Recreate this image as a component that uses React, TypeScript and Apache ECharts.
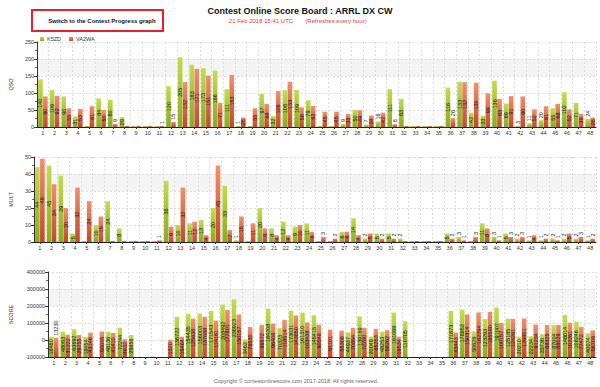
import React, { useEffect, useRef } from 'react';
import * as echarts from 'echarts';

const hours = ['1','2','3','4','5','6','7','8','9','10','11','12','13','14','15','16','17','18','19','20','21','22','23','24','25','26','27','28','29','30','31','32','33','34','35','36','37','38','39','40','41','42','43','44','45','46','47','48'];
const seriesNames = ['K5ZD', 'VA2WA'];

const qsoK5ZD = [140,109,90,31,0,84,80,29,0,0,0,120,205,183,173,166,111,1,0,97,32,108,109,79,0,0,9,50,7,16,111,83,0,0,0,116,133,42,33,136,69,3,11,20,55,102,71,24];
const qsoVA2WA = [90,92,55,53,61,50,9,0,0,0,1,15,132,171,151,71,153,28,55,68,106,133,58,62,45,45,38,49,34,42,8,0,0,0,0,26,132,130,99,83,91,90,52,61,68,52,39,28];

const multK5ZD = [44,45,39,5,0,10,24,8,0,0,0,36,10,11,13,20,33,1,0,20,8,12,9,11,0,0,6,14,2,5,5,2,0,0,0,5,3,0,11,3,5,2,1,1,2,2,2,1];
const multVA2WA = [49,34,20,32,24,15,0,0,0,0,1,9,32,12,4,45,7,15,11,8,4,4,10,6,3,2,6,4,5,2,2,0,0,0,0,2,1,3,8,1,3,3,4,2,1,5,3,2];

const scoreK5ZD = [18460,48093,63692,18454,0,48136,72244,29656,0,0,0,136722,154435,156003,171543,208492,238923,3463,0,184208,70323,173031,161310,145415,0,0,44937,139169,20049,48253,161069,110705,0,0,0,171873,178853,50626,123293,191007,125185,20210,22234,33736,87004,148014,108246,40074];
const scoreVA2WA = [13230,31222,29755,43146,50045,41410,4932,0,0,0,1320,19464,125638,137088,114161,177801,150157,76530,89572,96408,118514,143850,103438,90548,61101,55308,70854,72260,65253,58262,19534,0,0,0,0,43443,150314,162294,165580,100157,124261,126851,91234,88325,88029,102261,77472,56709];

const SCORE_OFFSET = 100000;

const GRID_H = 85;
const FONT = 'Liberation Sans, Arial, sans-serif';

function makeData(values: number[], maxUnits: number, offset: number, extra: number, hideZeroBar: boolean) {
  return values.map((v) => {
    if (v === 0) {
      return hideZeroBar ? '-' : { value: 0, label: { show: false } };
    }
    const px = ((v + offset) / maxUnits) * GRID_H;
    const txt = String(v);
    const need = txt.length * 3.2 + extra;
    const fits = px >= need;
    return {
      value: v + offset,
      label: {
        show: true,
        position: fits ? 'inside' : 'top',
        rotate: 90,
        align: fits ? 'center' : 'left',
        verticalAlign: 'middle',
        distance: 2,
        color: '#161616',
        textBorderWidth: 0,
        formatter: txt,
      },
    };
  });
}

const greenGrad = () => new echarts.graphic.LinearGradient(0, 0, 0, 1, [
  { offset: 0, color: '#c3dc50' },
  { offset: 1, color: '#86ac1f' },
]);
const redGrad = () => new echarts.graphic.LinearGradient(0, 0, 0, 1, [
  { offset: 0, color: '#f0906c' },
  { offset: 1, color: '#c24a27' },
]);

function yAxisCfg(gridIndex: number, max: number, interval: number, name: string, nameGap: number, formatter?: (v: number) => string) {
  return {
    type: 'value',
    gridIndex,
    min: 0,
    max,
    interval,
    name,
    nameLocation: 'middle',
    nameGap,
    nameTextStyle: { fontSize: 5.5, color: '#333', fontFamily: FONT },
    axisLine: { show: true, lineStyle: { color: '#333', width: 1 } },
    axisTick: { show: true, length: 3, lineStyle: { color: '#333' } },
    minorTick: { show: true, splitNumber: 2, length: 2, lineStyle: { color: '#e03030' } },
    axisLabel: { fontSize: 5.5, color: '#333', margin: 3, fontFamily: FONT, formatter: formatter || undefined },
    splitLine: { show: true, lineStyle: { color: '#dcdcdc', type: [2, 2] } },
    splitArea: { show: true, areaStyle: { color: ['rgba(0,0,0,0)', 'rgba(0,0,0,0)', 'rgba(0,0,0,0)', '#f4f4f4', 'rgba(0,0,0,0)'] } },
  };
}

function xAxisCfg(gridIndex: number) {
  return {
    type: 'category',
    gridIndex,
    data: hours,
    boundaryGap: true,
    axisLine: { show: true, lineStyle: { color: '#222', width: 1 } },
    axisTick: { show: true, alignWithLabel: true, length: 2, lineStyle: { color: '#333' } },
    axisLabel: { fontSize: 5.5, color: '#333', margin: 3, interval: 0, fontFamily: FONT },
    splitLine: { show: true, interval: 0, lineStyle: { color: '#dcdcdc', type: [2, 2] } },
  };
}

function barSeries(name: string, idx: number, data: any[], color: any) {
  return {
    type: 'bar',
    name,
    xAxisIndex: idx,
    yAxisIndex: idx,
    data,
    barGap: '8%',
    barCategoryGap: '18%',
    barMinHeight: 1,
    itemStyle: { color },
    label: { show: true, fontSize: 5.5, color: '#161616', textBorderWidth: 0, fontFamily: FONT },
  };
}

export default function App() {
  const ref = useRef<HTMLDivElement>(null);
  useEffect(() => {
    if (!ref.current) return;
    const chart = echarts.init(ref.current, undefined, { renderer: 'svg' });
    const option = {
      animation: false,
      backgroundColor: '#fff',
      textStyle: { fontFamily: FONT },
      title: {
        text: 'Contest Online Score Board : ARRL DX CW',
        left: 'center',
        top: 1,
        textStyle: { fontSize: 9, fontWeight: 'bold', color: '#111', fontFamily: FONT },
      },
      legend: {
        data: seriesNames,
        left: 35,
        top: 31,
        itemWidth: 4,
        itemHeight: 4,
        itemGap: 8,
        icon: 'rect',
        textStyle: { fontSize: 5.5, color: '#333', fontFamily: FONT, padding: [0, 0, 0, -2] },
      },
      graphic: [
        { type: 'rect', shape: { x: 32, y: 10, width: 131, height: 21 }, style: { fill: 'none', stroke: '#e8202a', lineWidth: 2 } },
        { type: 'text', x: 102, y: 21, style: { text: 'Switch to the Contest Progress graph', fontSize: 6, fontWeight: 'bold', fill: '#111', align: 'center', verticalAlign: 'middle', fontFamily: FONT } },
        { type: 'text', x: 261, y: 21, style: { text: '21 Feb 2018 15:41 UTC', fontSize: 6, fill: '#ee3333', align: 'center', verticalAlign: 'middle', fontFamily: FONT } },
        { type: 'text', x: 336, y: 21, style: { text: '(Refreshes every hour)', fontSize: 6, fill: '#ee3333', align: 'center', verticalAlign: 'middle', fontFamily: FONT } },
        { type: 'text', x: 296, y: 381, style: { text: 'Copyright \u00a9 contestonlinescore.com 2017-2018. All rights reserved.', fontSize: 5.5, fill: '#666', align: 'center', verticalAlign: 'middle', fontFamily: FONT } },
      ],
      grid: [
        { left: 31, width: 565, top: 42, height: GRID_H },
        { left: 31, width: 565, top: 157, height: GRID_H },
        { left: 31, width: 565, top: 272, height: GRID_H },
      ],
      xAxis: [xAxisCfg(0), xAxisCfg(1), xAxisCfg(2)],
      yAxis: [
        yAxisCfg(0, 250, 50, 'QSO', 13),
        yAxisCfg(1, 50, 10, 'MULT', 9),
        yAxisCfg(2, 500000, 100000, 'SCORE', 25, (v: number) => String(v - SCORE_OFFSET)),
      ],
      series: [
        barSeries(seriesNames[0], 0, makeData(qsoK5ZD, 250, 0, 3, false), greenGrad()),
        barSeries(seriesNames[1], 0, makeData(qsoVA2WA, 250, 0, 3, false), redGrad()),
        barSeries(seriesNames[0], 1, makeData(multK5ZD, 50, 0, 3, false), greenGrad()),
        barSeries(seriesNames[1], 1, makeData(multVA2WA, 50, 0, 3, false), redGrad()),
        barSeries(seriesNames[0], 2, makeData(scoreK5ZD, 500000, SCORE_OFFSET, 4, true), greenGrad()),
        barSeries(seriesNames[1], 2, makeData(scoreVA2WA, 500000, SCORE_OFFSET, 4, true), redGrad()),
      ],
    };
    chart.setOption(option as any);
    return () => chart.dispose();
  }, []);
  return <div ref={ref} style={{ position: 'fixed', left: 0, top: 0, width: 600, height: 387 }} />;
}
